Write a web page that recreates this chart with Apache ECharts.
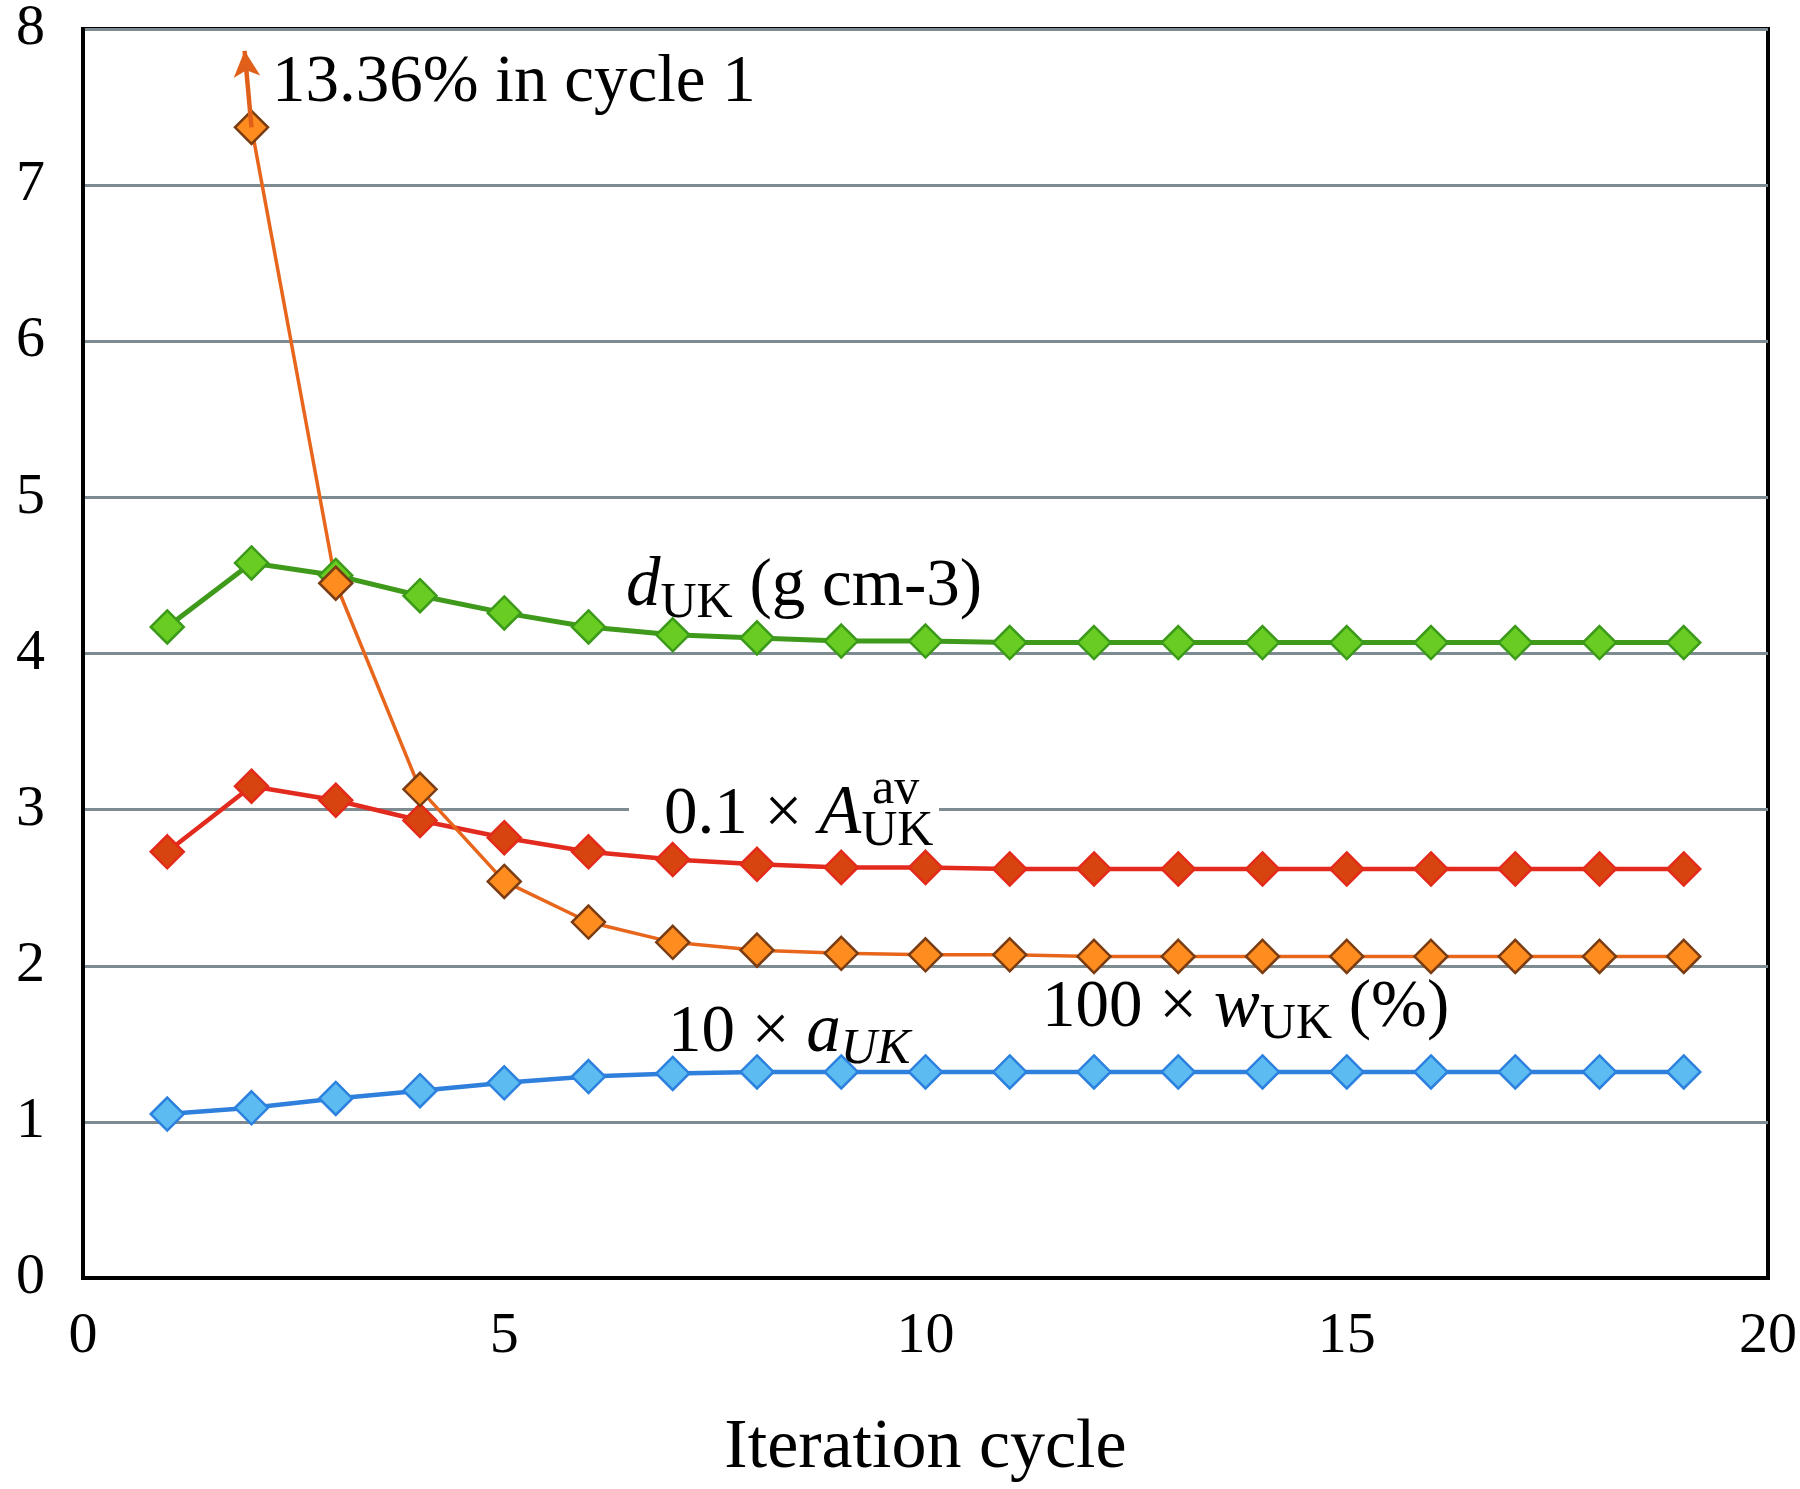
<!DOCTYPE html>
<html>
<head>
<meta charset="utf-8">
<script src="https://cdn.jsdelivr.net/npm/echarts@6/dist/echarts.min.js"></script>
<style>
html, body { margin: 0; padding: 0; background: #fff; }
#canvas { width: 1800px; height: 1489px; }
</style>
</head>
<body>
<div id="canvas"></div>
<script>
// values, cycles 1..19
var cycles = [1, 2, 3, 4, 5, 6, 7, 8, 9, 10, 11, 12, 13, 14, 15, 16, 17, 18, 19];
var dUK = [4.17, 4.58, 4.50, 4.37, 4.26, 4.17, 4.12, 4.10, 4.08, 4.08, 4.07, 4.07, 4.07, 4.07, 4.07, 4.07, 4.07, 4.07, 4.07];
var aAvUK = [2.73, 3.15, 3.06, 2.93, 2.82, 2.73, 2.68, 2.65, 2.63, 2.63, 2.62, 2.62, 2.62, 2.62, 2.62, 2.62, 2.62, 2.62, 2.62];
var wUK = [13.36, 7.37, 4.45, 3.13, 2.54, 2.28, 2.15, 2.10, 2.08, 2.07, 2.07, 2.06, 2.06, 2.06, 2.06, 2.06, 2.06, 2.06, 2.06];
var aUK = [1.05, 1.09, 1.15, 1.20, 1.25, 1.29, 1.31, 1.32, 1.32, 1.32, 1.32, 1.32, 1.32, 1.32, 1.32, 1.32, 1.32, 1.32, 1.32];
var xTicks = [0, 20, 5];   // min, max, step
var yTicks = [0, 8, 1];
var arrowTop = 7.86;       // where the cut-off w line stops

var font = '"Liberation Serif", "DejaVu Serif", serif';

var pairs = function(ys, from) {
    var out = [];
    for (var i = from || 0; i < ys.length; i++) out.push([cycles[i], ys[i]]);
    return out;
};

// end of the arrow: along segment cycle2 -> cycle1 until arrowTop
var t = (arrowTop - wUK[1]) / (wUK[0] - wUK[1]);
var arrowX = cycles[1] - t * (cycles[1] - cycles[0]);

var series_of = function(name, data, line, fill, border, lw) {
    return {
        name: name,
        type: 'line',
        data: data,
        symbol: 'diamond',
        symbolSize: [33, 33],
        showSymbol: true,
        animation: false,
        lineStyle: {color: line, width: lw},
        itemStyle: {color: fill, borderColor: border, borderWidth: 2.5}
    };
};

var rich_of = function(subItalic) {
    return {
        n: {fontFamily: font, fontSize: 67, lineHeight: 84, verticalAlign: 'middle'},
        i: {fontFamily: font, fontSize: 69, fontStyle: 'italic', lineHeight: 84, verticalAlign: 'middle'},
        s: {fontFamily: font, fontSize: 50, fontStyle: subItalic ? 'italic' : 'normal', lineHeight: 50, verticalAlign: 'bottom'}
    };
};

var load_chart = function() {
    var myChart = echarts.init(document.getElementById('canvas'));
    var wSeries = series_of('w', pairs(wUK, 1), '#e8661c', '#ff8c1f', '#7a3c12', 3.5);
    wSeries.markLine = {
        silent: true,
        symbol: ['none', 'arrow'],
        symbolSize: [20, 26],
        label: {show: false},
        lineStyle: {color: '#e0601a', width: 4.5, type: 'solid'},
        data: [[{coord: [cycles[1], wUK[1]]}, {coord: [arrowX, arrowTop]}]],
        animation: false
    };
    var option = {
        backgroundColor: '#fff',
        animation: false,
        grid: {
            left: 83, right: 27, top: 21, bottom: 201,
            show: true, borderColor: '#000', borderWidth: 4, backgroundColor: 'transparent'
        },
        xAxis: {
            type: 'value',
            min: xTicks[0], max: xTicks[1], interval: xTicks[2],
            name: 'Iteration cycle',
            nameLocation: 'middle',
            nameGap: 136,
            nameTextStyle: {fontFamily: font, fontSize: 70, color: '#000'},
            axisLine: {lineStyle: {color: '#000', width: 4}},
            axisTick: {show: false},
            splitLine: {show: false},
            axisLabel: {fontFamily: font, fontSize: 58, color: '#000', margin: 30}
        },
        yAxis: {
            type: 'value',
            min: yTicks[0], max: yTicks[1], interval: yTicks[2],
            axisLine: {show: true, lineStyle: {color: '#000', width: 4}},
            axisTick: {show: false},
            splitLine: {lineStyle: {color: '#7d8b91', width: 3}},
            axisLabel: {fontFamily: font, fontSize: 58, color: '#000', margin: 38}
        },
        series: [
            series_of('a', pairs(aUK), '#2f7fdc', '#5cbcf2', '#2c80de', 4.5),
            series_of('A', pairs(aAvUK), '#e22a1e', '#d8440f', '#e42a1a', 4.5),
            series_of('d', pairs(dUK), '#3f9a1c', '#68cc22', '#3c9a1a', 5),
            wSeries
        ],
        graphic: [
            // gap in the grid line behind the A label
            {type: 'rect', z: 1, shape: {x: 629, y: 806, width: 310, height: 14}, style: {fill: '#fff'}},
            {type: 'text', z: 10, x: 272, y: 83, style: {
                text: '13.36% in cycle 1', fontFamily: font, fontSize: 67, fill: '#000', verticalAlign: 'middle'}},
            {type: 'text', z: 10, x: 626, y: 587, style: {
                text: '{i|d}{s|UK}{n| (g cm-3)}', fill: '#000', verticalAlign: 'middle', rich: rich_of(false)}},
            {type: 'text', z: 10, x: 664, y: 815, style: {
                text: '{n|0.1 × }{i|A}{s|UK}', fill: '#000', verticalAlign: 'middle', rich: rich_of(false)}},
            {type: 'text', z: 10, x: 872, y: 790, style: {
                text: 'av', fontFamily: font, fontSize: 50, fill: '#000', verticalAlign: 'middle'}},
            {type: 'text', z: 10, x: 1042, y: 1008, style: {
                text: '{n|100 × }{i|w}{s|UK}{n| (%)}', fill: '#000', verticalAlign: 'middle', rich: rich_of(false)}},
            {type: 'text', z: 10, x: 668, y: 1033, style: {
                text: '{n|10 × }{i|a}{s|UK}', fill: '#000', verticalAlign: 'middle', rich: rich_of(true)}}
        ]
    };
    myChart.setOption(option);
};

load_chart();
</script>
</body>
</html>
